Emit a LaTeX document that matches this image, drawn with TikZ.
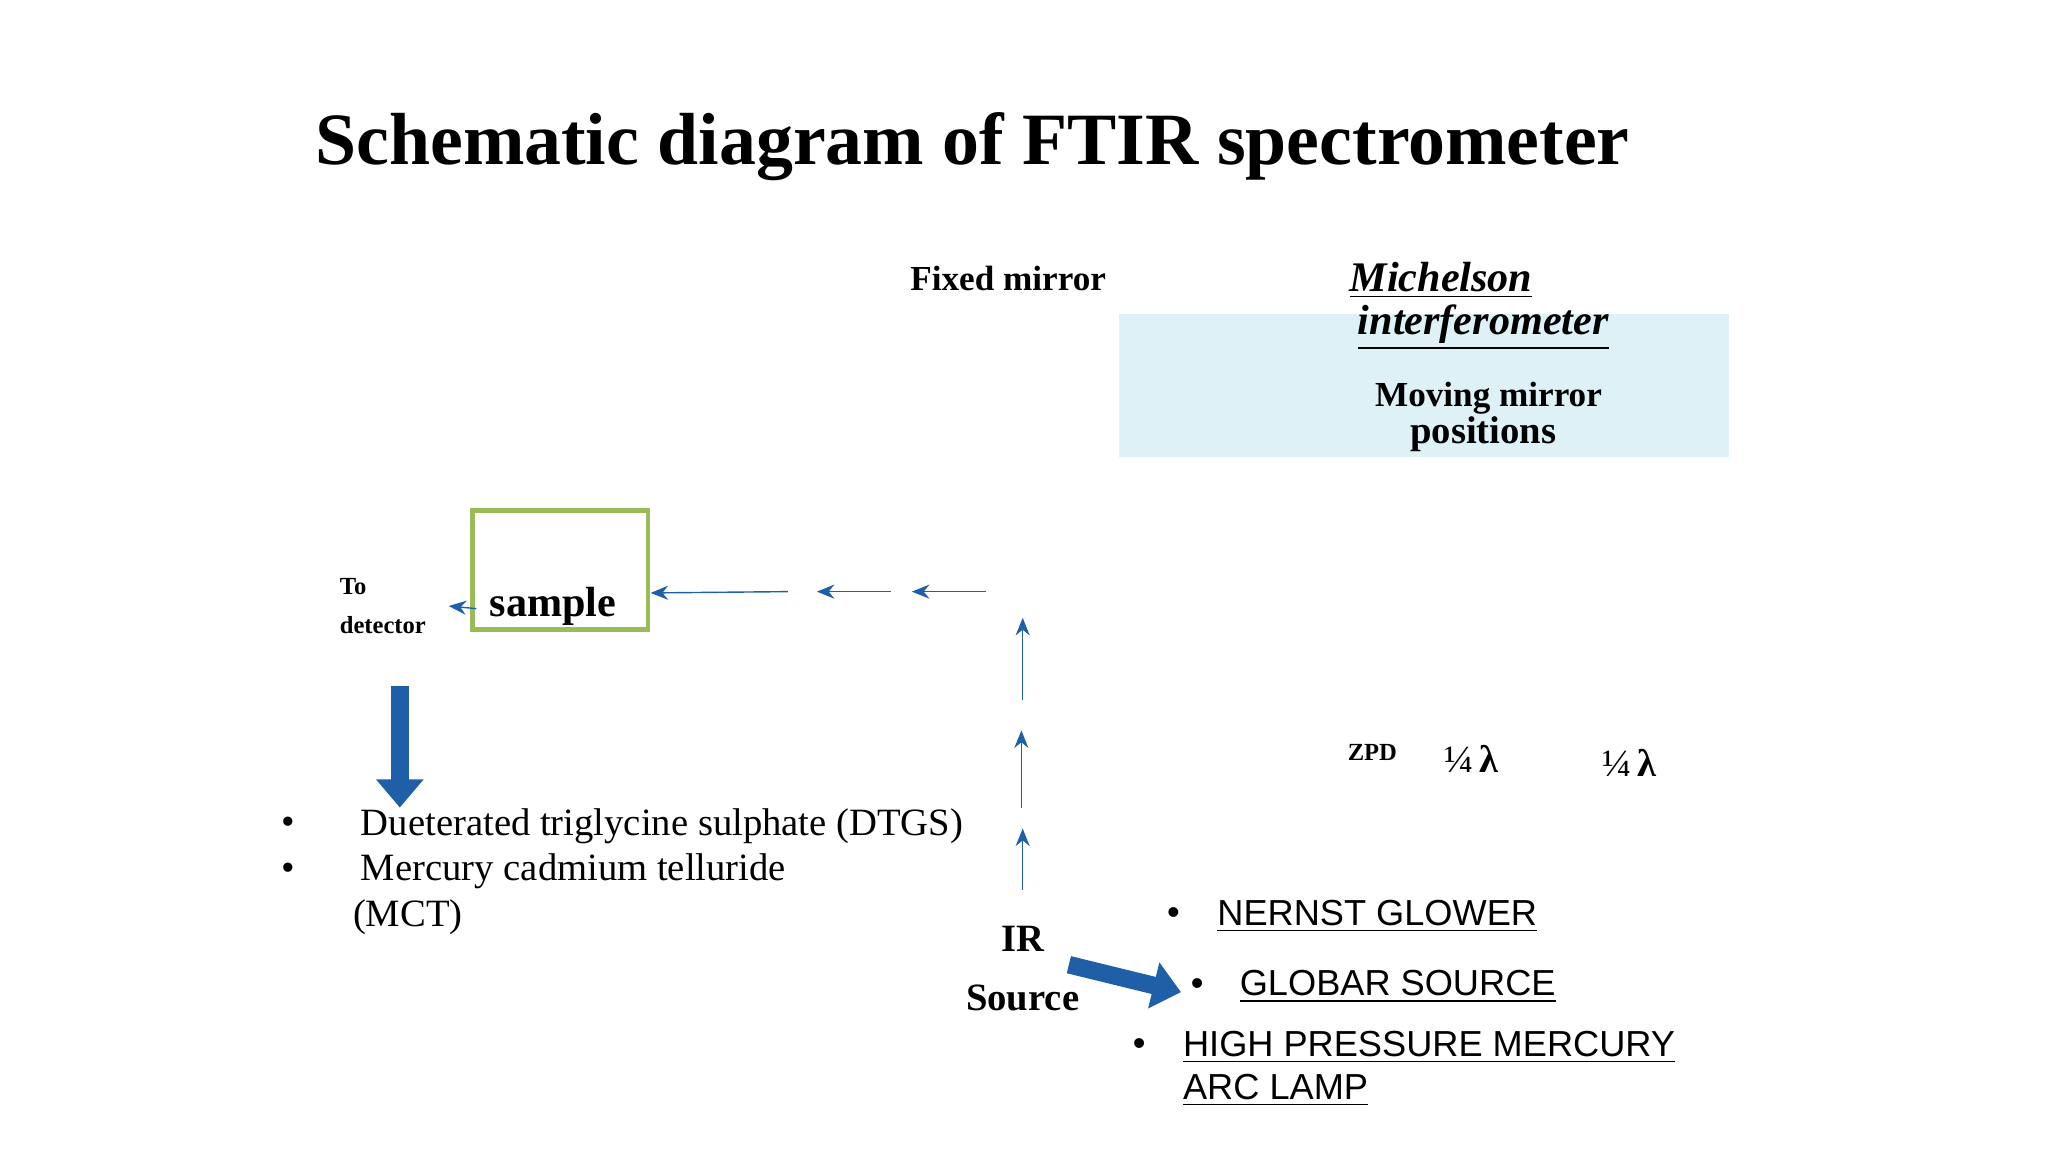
\documentclass[tikz,border=0pt]{standalone}
\usepackage{fontspec}
\setmainfont{Liberation Serif}
\newfontfamily\sansf{Liberation Sans}
\usetikzlibrary{arrows.meta,positioning}
\definecolor{beamblue}{HTML}{1F5FA8}
\definecolor{boxgreen}{HTML}{9BBB59}
\definecolor{panelblue}{HTML}{DDF1F7}
\tikzset{beam/.style={draw=beamblue, thin, -{Stealth[length=5pt,width=4pt]}},
  fat/.style={draw=beamblue, line width=5pt, -{Triangle[length=8pt,width=13pt]}},
  lab/.style={font=\bfseries\fontsize{10}{12}\selectfont, inner sep=0pt},
  body/.style={font=\fontsize{11}{13}\selectfont, inner sep=0pt, anchor=west},
  src/.style={font=\sansf\fontsize{10.3}{12}\selectfont, inner sep=0pt, anchor=west}}
\begin{document}
\begin{tikzpicture}[x=0.013196cm, y=-0.013091cm]
    \useasboundingbox (0,0) rectangle (1552,880);
    \node[font=\bfseries\fontsize{21}{25}\selectfont] (title) at (737,112) {Schematic diagram of FTIR spectrometer};
    \fill[panelblue] (848,240) rectangle (1310,349);
    \node[lab] (fixed) at (764,213) {Fixed mirror};
    \node[lab, font=\bfseries\itshape\fontsize{12}{14}\selectfont] (mich1) at (1092,214) {\underline{Michelson}};
    \node[lab, font=\bfseries\itshape\fontsize{12}{14}\selectfont] (mich2) at (1124,250) {\underline{interferometer}};
    \node[lab] (moving) at (1128,304) {Moving mirror};
    \node[lab, font=\bfseries\fontsize{11}{13}\selectfont] (pos) at (1124,332) {positions};
    % sample and detector
    \draw[boxgreen, line width=1.2pt] (358,390) rectangle (491,481);
    \node[lab, font=\bfseries\fontsize{12}{14}\selectfont] (sample) at (419,463) {sample};
    \node[lab, font=\bfseries\fontsize{7}{9}\selectfont, align=left, anchor=west] (det) at (257,463) {To\\[2pt]detector};
    % beam path
    \coordinate (b1) at (597,452); \coordinate (b2) at (493,453);
    \coordinate (b3) at (675,452); \coordinate (b4) at (619,452);
    \coordinate (b5) at (747,452); \coordinate (b6) at (691,452);
    \coordinate (u1) at (775,535); \coordinate (u2) at (775,472);
    \coordinate (u3) at (774,617); \coordinate (u4) at (774,558);
    \coordinate (u5) at (775,680); \coordinate (u6) at (775,633);
    \coordinate (d1) at (361,465); \coordinate (d2) at (340,463);
    \draw[beam] (b1) -- (b2);
    \draw[beam] (b3) -- (b4);
    \draw[beam] (b5) -- (b6);
    \draw[beam] (u1) -- (u2);
    \draw[beam] (u3) -- (u4);
    \draw[beam] (u5) -- (u6);
    \draw[beam] (d1) -- (d2);
    % detectors list
    \coordinate (f1) at (303,524); \coordinate (f2) at (303,617);
    \draw[fat] (f1) -- (f2);
    \node[body] (bul1) at (213,631) {•};
    \node[body] (dtgs) at (273,631) {Dueterated triglycine sulphate (DTGS)};
    \node[body] (bul2) at (213,666) {•};
    \node[body] (mct) at (273,666) {Mercury cadmium telluride};
    \node[body] (mct2) at (267,701) {(MCT)};
    % source
    \node[lab, font=\bfseries\fontsize{11}{13}\selectfont, align=center] (ir) at (775,740) {IR\\[4pt]Source};
    \coordinate (s1) at (810,737); \coordinate (s2) at (895,758);
    \draw[fat] (s1) -- (s2);
    \node[lab, font=\bfseries\fontsize{7}{9}\selectfont] (zpd) at (1040,575) {ZPD};
    \node[lab, font=\fontsize{11}{13}\selectfont] (q1) at (1115,580) {¼\,\textbf{λ}};
    \node[lab, font=\fontsize{11}{13}\selectfont] (q2) at (1235,583) {¼\,\textbf{λ}};
    \node[src] (sb1) at (884,700) {•};
    \node[src] (nernst) at (922,700) {\underline{NERNST GLOWER}};
    \node[src] (sb2) at (902,754) {•};
    \node[src] (globar) at (939,754) {\underline{GLOBAR SOURCE}};
    \node[src] (sb3) at (858,800) {•};
    \node[src] (hpm) at (896,800) {\underline{HIGH PRESSURE MERCURY}};
    \node[src] (arc) at (896,833) {\underline{ARC LAMP}};
\end{tikzpicture}
\end{document}
